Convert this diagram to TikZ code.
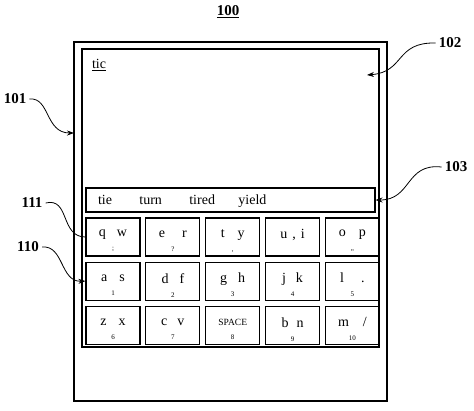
\documentclass[tikz,border=0pt]{standalone}
\usepackage{fontspec}
\setmainfont{Liberation Serif}
\usetikzlibrary{positioning, arrows.meta}
\begin{document}
\begin{tikzpicture}[x=1pt, y=-1pt]
    \tikzstyle{arrow} = [thick, ->, >= {Stealth[length = 7pt, width = 5pt]}]
    \tikzstyle{lead} = [thick, -]
    \tikzstyle{frame} = [rectangle, draw = black, line width = 1.3pt, inner sep = 0pt]
    \tikzstyle{box} = [rectangle, draw = black, line width = 1.1pt, inner sep = 0pt]
    \tikzstyle{key} = [box, minimum width = 54pt, minimum height = 38pt]
    \tikzstyle{keytext} = [align = center, inner sep = 0pt, yshift = -4pt, font = \fontsize{14}{12}\selectfont, execute at begin node = {\rule{0pt}{10pt}}]
    \tikzstyle{word} = [inner sep = 0pt, font = \fontsize{14}{14}\selectfont]
    \tikzstyle{ref} = [inner sep = 3pt, font = \fontsize{15}{15}\selectfont\bfseries]
    \useasboundingbox (0,0) rectangle (474,410);

    \node[ref](title) at (228,12){\underline{100}};

    \node[frame, minimum width = 313pt, minimum height = 359pt](device) at (230.5,221.5){};
    \node[frame, minimum width = 297pt, minimum height = 298pt](screen) at (230.5,198){};
    \node[word](typed) at (99,65){\underline{tic}};

    \node[box, minimum width = 289pt, minimum height = 24pt](cand) at (230.5,200){};
    \node[word, anchor = base](tie) at (105,204){tie};
    \node[word, base right = 27pt of tie](turn){turn};
    \node[word, base right = 27pt of turn](tired){tired};
    \node[word, base right = 23pt of tired](yield){yield};

    % keys, first row
    \node[key](q) at (113,237){};
    \node[key, right = 4.75pt of q](e){};
    \node[key, right = 4.75pt of e](t){};
    \node[key, right = 4.75pt of t](u){};
    \node[key, right = 4.75pt of u](o){};
    % second row
    \node[key, below = 5pt of q](a){};
    \node[key, right = 4.75pt of a](d){};
    \node[key, right = 4.75pt of d](g){};
    \node[key, right = 4.75pt of g](j){};
    \node[key, right = 4.75pt of j](l){};
    % third row
    \node[key, below = 5pt of a](z){};
    \node[key, right = 4.75pt of z](c){};
    \node[key, right = 4.75pt of c](sp){};
    \node[key, right = 4.75pt of sp](b){};
    \node[key, right = 4.75pt of b](m){};

    \node[keytext](qw) at (q){q\hspace{11pt}w\\[2pt]{\scriptsize ;}};
    \node[keytext](er) at (e){e\hspace{17pt}r\\[2pt]{\scriptsize ?}};
    \node[keytext](ty) at (t){t\hspace{13pt}y\\[2pt]{\scriptsize ,}};
    \node[keytext](ui) at (u){u\hspace{5pt},\hspace{5pt}i\\[2pt]{\scriptsize ~}};
    \node[keytext](op) at (o){o\hspace{13pt}p\\[2pt]{\scriptsize „}};
    \node[keytext](as) at (a){a\hspace{12pt}s\\[2pt]{\scriptsize 1}};
    \node[keytext](df) at (d){d\hspace{11pt}f\\[2pt]{\scriptsize 2}};
    \node[keytext](gh) at (g){g\hspace{11pt}h\\[2pt]{\scriptsize 3}};
    \node[keytext](jk) at (j){j\hspace{10pt}k\\[2pt]{\scriptsize 4}};
    \node[keytext](ldot) at (l){l\hspace{17pt}.\\[2pt]{\scriptsize 5}};
    \node[keytext](zx) at (z){z\hspace{12pt}x\\[2pt]{\scriptsize 6}};
    \node[keytext](cv) at (c){c\hspace{10pt}v\\[2pt]{\scriptsize 7}};
    \node[keytext](space) at (sp){{\fontsize{9.5}{9.5}\selectfont SPACE}\\[2pt]{\scriptsize 8}};
    \node[keytext](bn) at (b){b\hspace{8pt}n\\[2pt]{\scriptsize 9}};
    \node[keytext](mslash) at (m){m\hspace{14pt}/\\[2pt]{\scriptsize 10}};

    \node[ref](r101) at (15,99){101};
    \node[ref](r102) at (450,43){102};
    \node[ref](r103) at (456,167){103};
    \node[ref](r111) at (32,203){111};
    \node[ref](r110) at (28,247){110};

    \coordinate (p101) at (74,133);
    \coordinate (p102) at (367,75);

    \draw[arrow] (r101.east) .. controls (50,97) and (45,133) .. (p101);
    \draw[arrow] (r102.west) .. controls (395,42) and (405,72) .. (p102);
    \draw[arrow] (r103.west) .. controls (405,163) and (412,200) .. (cand.east);
    \draw[lead] (r111.east) .. controls (70,197) and (60,237) .. (q.west);
    \draw[arrow] (r110.east) .. controls (64,245) and (60,282) .. (a.west);

    \end{tikzpicture}
\end{document}
